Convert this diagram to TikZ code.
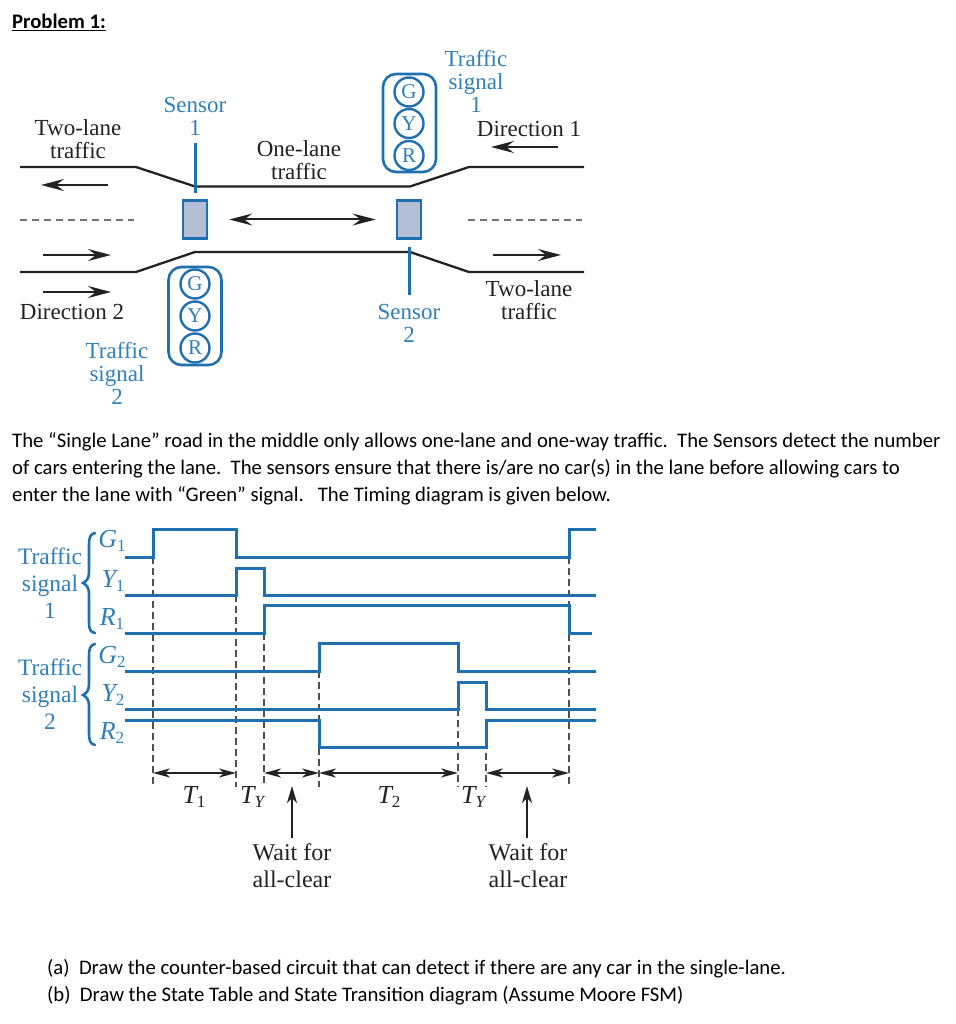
\documentclass[tikz,border=0pt]{standalone}
\usepackage{fontspec}
\setsansfont{Carlito}
\newfontfamily\figfont{Liberation Serif}
\usetikzlibrary{arrows.meta}
\definecolor{lineblue}{HTML}{1F70B0}
\definecolor{textblue}{HTML}{2F7FB8}
\definecolor{ink}{HTML}{222222}
\definecolor{sensorfill}{HTML}{B4BFD6}
\newcommand{\sigsub}[2]{{\itshape #1}\raisebox{-4pt}{\fontsize{17}{17}\selectfont #2}}
\tikzset{
  road/.style={draw=ink,line width=2.3pt,line join=miter},
  flow/.style={draw=ink,line width=2pt,-{Stealth[length=23pt,width=12pt,inset=8pt]}},
  twoway/.style={draw=ink,line width=2pt,{Stealth[length=23pt,width=12pt,inset=8pt]}-{Stealth[length=23pt,width=12pt,inset=8pt]}},
  centre/.style={draw=gray!90!black,line width=1.4pt,dash pattern=on 7pt off 5pt},
  tick/.style={draw=ink!80,line width=1.3pt,dash pattern=on 7pt off 4pt},
  wave/.style={draw=lineblue,line width=3pt,line join=miter},
  span/.style={draw=ink,line width=1.8pt,{Stealth[length=17pt,width=9pt,inset=5pt]}-{Stealth[length=17pt,width=9pt,inset=5pt]}},
  rise/.style={draw=ink,line width=2pt,-{Stealth[length=17pt,width=10pt,inset=5pt]}},
  sensorbar/.style={draw=lineblue,line width=3pt},
  sensorbox/.style={draw=lineblue,line width=2.6pt,fill=sensorfill,minimum width=24pt,minimum height=38pt,inner sep=0pt},
  housing/.style={draw=lineblue,line width=2.6pt,rounded corners=13pt,fill=white,minimum width=53pt,minimum height=98pt,inner sep=0pt},
  lamp/.style={draw=lineblue,line width=2.4pt,circle,minimum size=29pt,inner sep=0pt,text=textblue,font=\figfont\fontsize{21}{21}\selectfont},
  fig/.style={font=\figfont\fontsize{23}{23}\selectfont,text=ink,align=center,inner sep=0pt},
  figb/.style={fig,text=textblue},
  sig/.style={font=\figfont\fontsize{23.5}{27}\selectfont,text=textblue,align=center,inner sep=0pt},
  wavelabel/.style={font=\figfont\fontsize{26}{26}\selectfont,text=textblue,inner sep=0pt},
  brace/.style={draw=lineblue,line width=2.6pt,line cap=round},
  timelabel/.style={font=\figfont\fontsize{26}{26}\selectfont,text=ink,inner sep=0pt},
  body/.style={font=\sffamily\fontsize{20.7}{20.7}\selectfont,text=black,anchor=base west,inner sep=0pt}
}
\begin{document}
\begin{tikzpicture}[x=1pt,y=-1pt]
\useasboundingbox (0,0) rectangle (955,1024);
% heading and paragraph
\node[body,font=\sffamily\bfseries\fontsize{20.7}{20.7}\selectfont] (title) at (12,29) {\underline{Problem 1:}};
\node[body] (p1) at (12,447) {The “Single Lane” road in the middle only allows one-lane and one-way traffic.\ \ The Sensors detect the number};
\node[body] (p2) at (12,474) {of cars entering the lane.\ \ The sensors ensure that there is/are no car(s) in the lane before allowing cars to};
\node[body] (p3) at (12,501) {enter the lane with “Green” signal.\ \ \ The Timing diagram is given below.};
\node[body] (qa) at (47,974) {(a)\ \ Draw the counter-based circuit that can detect if there are any car in the single-lane.};
\node[body] (qb) at (47,1001) {(b)\ \ Draw the State Table and State Transition diagram (Assume Moore FSM)};
% road
\draw[road] (20,167) -- (136,167) -- (195,186.5) -- (410,186.5) -- (469,167) -- (584,167);
\draw[road] (20,272) -- (136,272) -- (195,252) -- (410,252) -- (469,272) -- (584,272);
\draw[centre] (20,220) -- (134,220);
\draw[centre] (468,220) -- (582,220);
% traffic arrows
\coordinate (a1s) at (108,185); \coordinate (a1e) at (41,185);
\coordinate (a2s) at (43,255); \coordinate (a2e) at (111,255);
\coordinate (a3s) at (43,292); \coordinate (a3e) at (111,292);
\coordinate (a4s) at (558,147); \coordinate (a4e) at (491,147);
\coordinate (a5s) at (493,255); \coordinate (a5e) at (561,255);
\draw[flow] (a1s) -- (a1e);
\draw[flow] (a2s) -- (a2e);
\draw[flow] (a3s) -- (a3e);
\draw[flow] (a4s) -- (a4e);
\draw[flow] (a5s) -- (a5e);
% sensors
\node[sensorbox] (box1) at (195,219.5) {};
\node[sensorbox] (box2) at (409,219.5) {};
\draw[twoway] ([xshift=21pt]box1.east) -- ([xshift=-20pt]box2.west);
\coordinate (s1a) at (195,143); \coordinate (s1b) at (195,193);
\coordinate (s2a) at (409,247); \coordinate (s2b) at (409,295);
\draw[sensorbar] (s1a) -- (s1b);
\draw[sensorbar] (s2a) -- (s2b);
% signals
\node[housing] (h1) at (409.5,123) {};
\node[lamp] (g1) at (409,92) {G};
\node[lamp] (y1) at (409,123.5) {Y};
\node[lamp] (r1) at (409,155.5) {R};
\node[housing] (h2) at (195,316) {};
\node[lamp] (g2) at (195,284) {G};
\node[lamp] (y2) at (195,316) {Y};
\node[lamp] (r2) at (195,348) {R};
% road labels
\node[fig] (tl1) at (78,139.5) {Two-lane\\traffic};
\node[fig] (ol) at (299,160) {One-lane\\traffic};
\node[fig] (tl2) at (529,300.5) {Two-lane\\traffic};
\node[fig] (d1) at (529,128.5) {Direction 1};
\node[fig] (d2) at (72,312) {Direction 2};
\node[figb] (sn1) at (195,116.5) {Sensor\\1};
\node[figb] (sn2) at (409,323.5) {Sensor\\2};
\node[figb] (ts1) at (476,81) {Traffic\\signal\\1};
\node[figb] (ts2) at (117,373) {Traffic\\signal\\2};
% timing guides
\foreach \n/\x/\y in {a/153/557,b/236/595,c/264/633,d/319/671,e/458/709,f/486/720,g/569/557}{
  \coordinate (top\n) at (\x,\y);
  \coordinate (bot\n) at (\x,787);
  \coordinate (dim\n) at (\x,773);
  \draw[tick] (top\n) -- (bot\n);
}
% waveforms
\draw[wave] (125,557) -- (153,557) -- (153,529) -- (236,529) -- (236,557) -- (569,557) -- (569,529) -- (596,529);
\draw[wave] (125,595) -- (236,595) -- (236,568) -- (264,568) -- (264,595) -- (596,595);
\draw[wave] (125,633) -- (264,633) -- (264,605) -- (569,605) -- (569,633) -- (592,633);
\draw[wave] (125,671) -- (319,671) -- (319,643) -- (458,643) -- (458,671) -- (596,671);
\draw[wave] (125,709) -- (458,709) -- (458,682) -- (486,682) -- (486,709) -- (596,709);
\draw[wave] (125,720) -- (319,720) -- (319,747) -- (486,747) -- (486,720) -- (596,720);
% spans
\draw[span] (dima) -- (dimb);
\draw[span] (dimc) -- (dimd);
\draw[span] (dimd) -- (dime);
\draw[span] (dimf) -- (dimg);
\node[timelabel] (t1) at (194,797) {\sigsub{T}{1}};
\node[timelabel] (ty1) at (252,797) {\sigsub{T}{\itshape Y}};
\node[timelabel] (t2) at (389,797) {\sigsub{T}{2}};
\node[timelabel] (ty2) at (473,797) {\sigsub{T}{\itshape Y}};
% wait labels
\node[fig,font=\figfont\fontsize{24}{27}\selectfont] (w1) at (292,866) {Wait for\\all-clear};
\node[fig,font=\figfont\fontsize{24}{27}\selectfont] (w2) at (528,866) {Wait for\\all-clear};
\coordinate (r1s) at (292,838); \coordinate (r1e) at (292,786);
\coordinate (r2s) at (527,838); \coordinate (r2e) at (527,786);
\draw[rise] (r1s) -- (r1e);
\draw[rise] (r2s) -- (r2e);
% braces
\draw[brace] (95,533) .. controls (90,534) and (89,538) .. (89,545) -- (89,572) .. controls (89,578) and (87,581) .. (83,583) .. controls (87,585) and (89,588) .. (89,594) -- (89,622) .. controls (89,629) and (90,632) .. (95,633);
\draw[brace] (95,644) .. controls (90,645) and (89,649) .. (89,656) -- (89,684) .. controls (89,690) and (87,693) .. (83,695) .. controls (87,697) and (89,700) .. (89,706) -- (89,733) .. controls (89,740) and (90,744) .. (95,745);
\node[sig] (tt1) at (50,583) {Traffic\\signal\\1};
\node[sig] (tt2) at (50,694) {Traffic\\signal\\2};
\node[wavelabel] (lg1) at (112,541) {\sigsub{G}{1}};
\node[wavelabel] (ly1) at (113,581) {\sigsub{Y}{1}};
\node[wavelabel] (lr1) at (112,619) {\sigsub{R}{1}};
\node[wavelabel] (lg2) at (112,657) {\sigsub{G}{2}};
\node[wavelabel] (ly2) at (113,695) {\sigsub{Y}{2}};
\node[wavelabel] (lr2) at (112,733) {\sigsub{R}{2}};
\end{tikzpicture}
\end{document}
